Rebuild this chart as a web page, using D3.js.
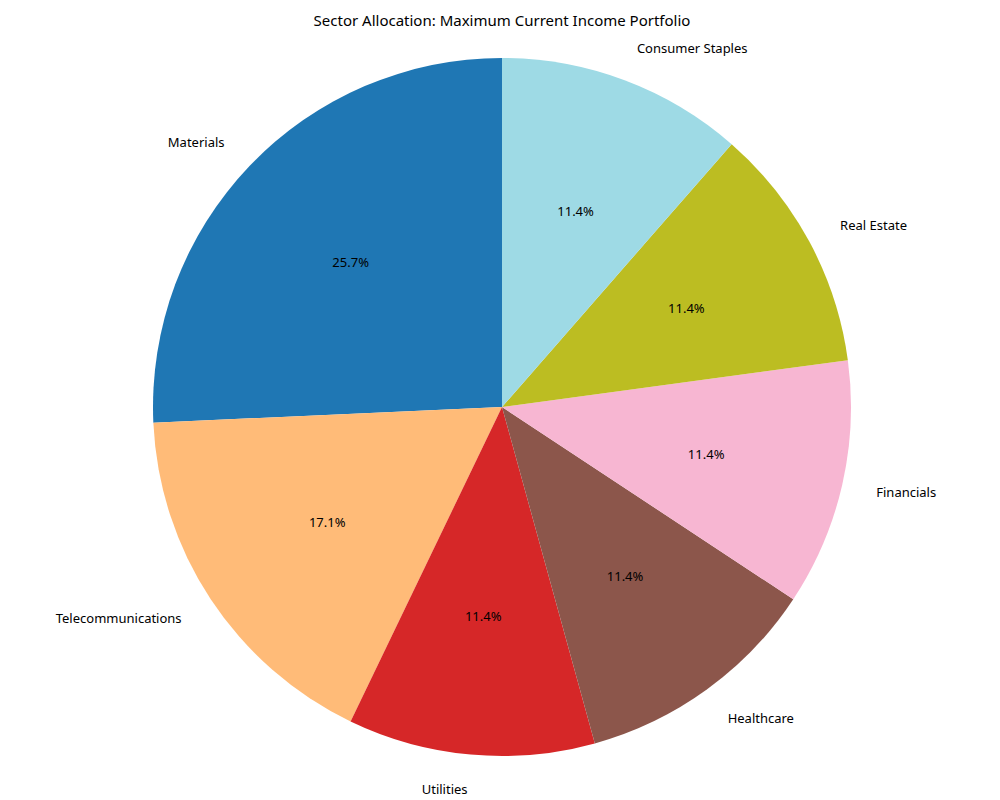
<!DOCTYPE html>
<html>
<head>
<meta charset="utf-8">
<script src="https://cdn.jsdelivr.net/npm/d3@7"></script>
<style>
  body { margin: 0; background: #fff; }
  text { font-family: "Noto Sans", "DejaVu Sans", sans-serif; }
</style>
</head>
<body>
<svg id="chart"></svg>
<script>
// Data
const sectors = ['Materials', 'Telecommunications', 'Utilities', 'Healthcare', 'Financials', 'Real Estate', 'Consumer Staples'];
const weights = [9, 6, 4, 4, 4, 4, 4];
const sectorColors = ['#1f77b4', '#ffbb78', '#d62728', '#8c564b', '#f7b6d2', '#bcbd22', '#9edae5'];

const width = 1000;
const height = 800;
const cx = 502, cy = 407, radius = 349;

const svg = d3.select('#chart').attr('width', width).attr('height', height);

svg.append('text')
    .attr('x', cx)
    .attr('y', 26)
    .attr('text-anchor', 'middle')
    .attr('font-size', '15px')
    .text('Sector Allocation: Maximum Current Income Portfolio');

const data = sectors.map((s, i) => ({ name: s, value: weights[i], color: sectorColors[i] }));
const total = d3.sum(weights);

// counter-clockwise from the top, like matplotlib startangle=90
const pie = d3.pie().value(d => d.value).sort(null).startAngle(0).endAngle(-2 * Math.PI);
const arcs = pie(data);

const arc = d3.arc().innerRadius(0).outerRadius(radius);
const g = svg.append('g').attr('transform', `translate(${cx}, ${cy})`);

g.selectAll('path')
    .data(arcs)
    .join('path')
    .attr('d', arc)
    .attr('fill', d => d.data.color);

function pos(d, r) {
    const a = (d.startAngle + d.endAngle) / 2;
    return [r * Math.sin(a), -r * Math.cos(a)];
}

// percentage labels
g.selectAll('.pct')
    .data(arcs)
    .join('text')
    .attr('class', 'pct')
    .attr('x', d => pos(d, radius * 0.6)[0])
    .attr('y', d => pos(d, radius * 0.6)[1])
    .attr('text-anchor', 'middle')
    .attr('dominant-baseline', 'central')
    .attr('font-size', '13px')
    .text(d => (d.data.value / total * 100).toFixed(1) + '%');

// sector labels
g.selectAll('.lbl')
    .data(arcs)
    .join('text')
    .attr('class', 'lbl')
    .attr('x', d => pos(d, radius * 1.1)[0])
    .attr('y', d => pos(d, radius * 1.1)[1])
    .attr('text-anchor', d => pos(d, 1)[0] > 0 ? 'start' : 'end')
    .attr('dominant-baseline', 'central')
    .attr('font-size', '13px')
    .text(d => d.data.name);
</script>
</body>
</html>
